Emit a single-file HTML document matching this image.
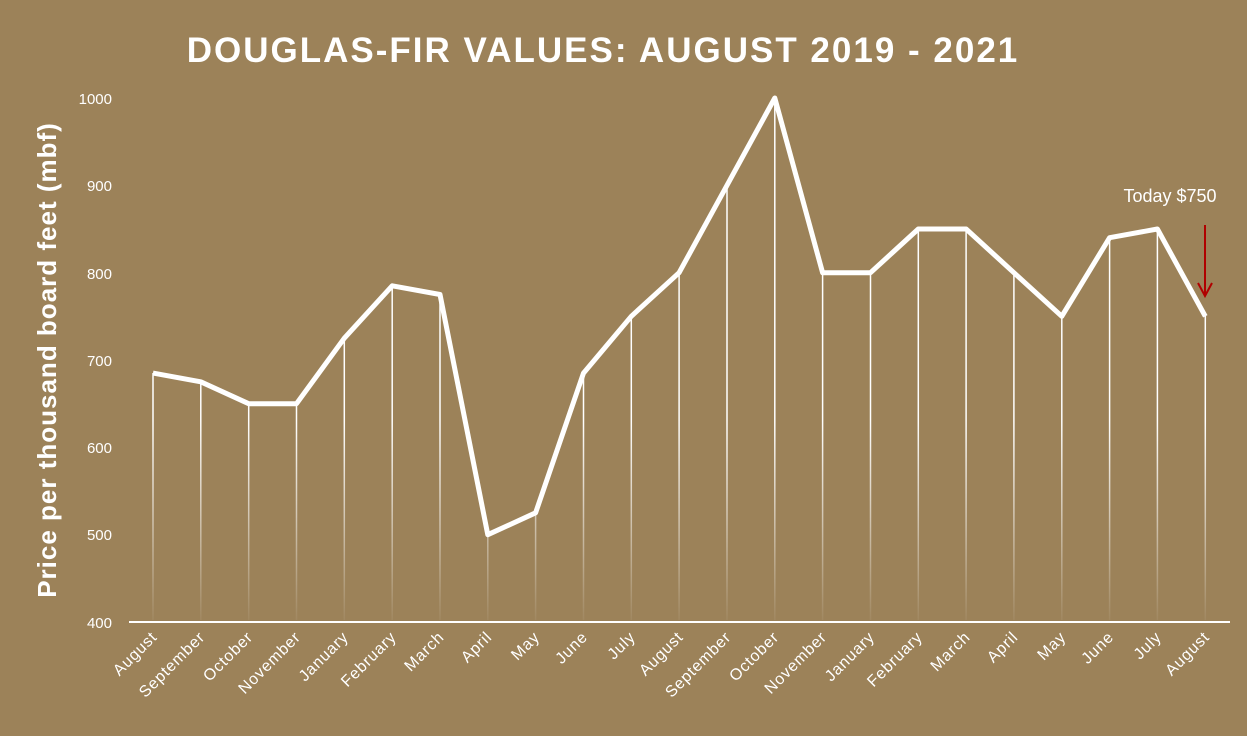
<!DOCTYPE html>
<html><head><style>body{margin:0;background:#9c8259;}svg{display:block}</style></head><body>
<svg width="1247" height="736" xmlns="http://www.w3.org/2000/svg" font-family="'Liberation Sans', sans-serif">
<defs><linearGradient id="g" gradientUnits="userSpaceOnUse" x1="0" y1="420" x2="0" y2="620"><stop offset="0" stop-color="#fff" stop-opacity="1"/><stop offset="1" stop-color="#fff" stop-opacity="0.05"/></linearGradient></defs>
<rect width="1247" height="736" fill="#9c8259"/>
<text x="603" y="62" text-anchor="middle" fill="#fff" font-size="35" font-weight="bold" letter-spacing="2">DOUGLAS-FIR VALUES: AUGUST 2019 - 2021</text>
<text transform="translate(56,360) rotate(-90)" text-anchor="middle" fill="#fff" font-size="26" font-weight="bold" letter-spacing="1">Price per thousand board feet (mbf)</text>
<g fill="#fff" font-size="15" text-anchor="end">
<text x="112" y="104">1000</text><text x="112" y="191">900</text><text x="112" y="279">800</text><text x="112" y="366">700</text><text x="112" y="453">600</text><text x="112" y="540">500</text><text x="112" y="628">400</text>
</g>
<line x1="129" y1="622" x2="1230" y2="622" stroke="#fff" stroke-width="2"/>
<g stroke="url(#g)" stroke-width="1.5">
<line x1="153" y1="373" x2="153" y2="620"/>
<line x1="200.8" y1="382" x2="200.8" y2="620"/>
<line x1="248.7" y1="404" x2="248.7" y2="620"/>
<line x1="296.5" y1="404" x2="296.5" y2="620"/>
<line x1="344.3" y1="338" x2="344.3" y2="620"/>
<line x1="392.2" y1="286" x2="392.2" y2="620"/>
<line x1="440" y1="294" x2="440" y2="620"/>
<line x1="487.8" y1="535" x2="487.8" y2="620"/>
<line x1="535.6" y1="513" x2="535.6" y2="620"/>
<line x1="583.5" y1="373" x2="583.5" y2="620"/>
<line x1="631.3" y1="316" x2="631.3" y2="620"/>
<line x1="679.1" y1="273" x2="679.1" y2="620"/>
<line x1="727" y1="185" x2="727" y2="620"/>
<line x1="774.8" y1="98" x2="774.8" y2="620"/>
<line x1="822.6" y1="273" x2="822.6" y2="620"/>
<line x1="870.5" y1="273" x2="870.5" y2="620"/>
<line x1="918.3" y1="229" x2="918.3" y2="620"/>
<line x1="966.1" y1="229" x2="966.1" y2="620"/>
<line x1="1013.9" y1="273" x2="1013.9" y2="620"/>
<line x1="1061.8" y1="316" x2="1061.8" y2="620"/>
<line x1="1109.6" y1="238" x2="1109.6" y2="620"/>
<line x1="1157.4" y1="229" x2="1157.4" y2="620"/>
<line x1="1205.3" y1="316" x2="1205.3" y2="620"/>
</g>
<polyline fill="none" stroke="#fff" stroke-width="5" stroke-linejoin="round" points="153,373.1 200.8,381.8 248.7,403.7 296.5,403.7 344.3,338.2 392.2,285.8 440,294.5 487.8,534.7 535.6,512.8 583.5,373.1 631.3,316.3 679.1,272.7 727,185.3 774.8,98 822.6,272.7 870.5,272.7 918.3,229 966.1,229 1013.9,272.7 1061.8,316.3 1109.6,237.7 1157.4,229 1205.3,316.3"/>
<g fill="#fff" font-size="16" text-anchor="end" letter-spacing="0.8">
<text transform="translate(158,638) rotate(-45)">August</text>
<text transform="translate(205.8,638) rotate(-45)">September</text>
<text transform="translate(253.7,638) rotate(-45)">October</text>
<text transform="translate(301.5,638) rotate(-45)">November</text>
<text transform="translate(349.3,638) rotate(-45)">January</text>
<text transform="translate(397.2,638) rotate(-45)">February</text>
<text transform="translate(445,638) rotate(-45)">March</text>
<text transform="translate(492.8,638) rotate(-45)">April</text>
<text transform="translate(540.6,638) rotate(-45)">May</text>
<text transform="translate(588.5,638) rotate(-45)">June</text>
<text transform="translate(636.3,638) rotate(-45)">July</text>
<text transform="translate(684.1,638) rotate(-45)">August</text>
<text transform="translate(732,638) rotate(-45)">September</text>
<text transform="translate(779.8,638) rotate(-45)">October</text>
<text transform="translate(827.6,638) rotate(-45)">November</text>
<text transform="translate(875.5,638) rotate(-45)">January</text>
<text transform="translate(923.3,638) rotate(-45)">February</text>
<text transform="translate(971.1,638) rotate(-45)">March</text>
<text transform="translate(1018.9,638) rotate(-45)">April</text>
<text transform="translate(1066.8,638) rotate(-45)">May</text>
<text transform="translate(1114.6,638) rotate(-45)">June</text>
<text transform="translate(1162.4,638) rotate(-45)">July</text>
<text transform="translate(1210.3,638) rotate(-45)">August</text>
</g>
<text x="1170" y="202" fill="#fff" font-size="18" text-anchor="middle">Today $750</text>
<line x1="1205" y1="225" x2="1205" y2="294" stroke="#b00000" stroke-width="2"/>
<polyline points="1198,283 1205,296 1212,283" fill="none" stroke="#b00000" stroke-width="2"/>
</svg>
</body></html>
